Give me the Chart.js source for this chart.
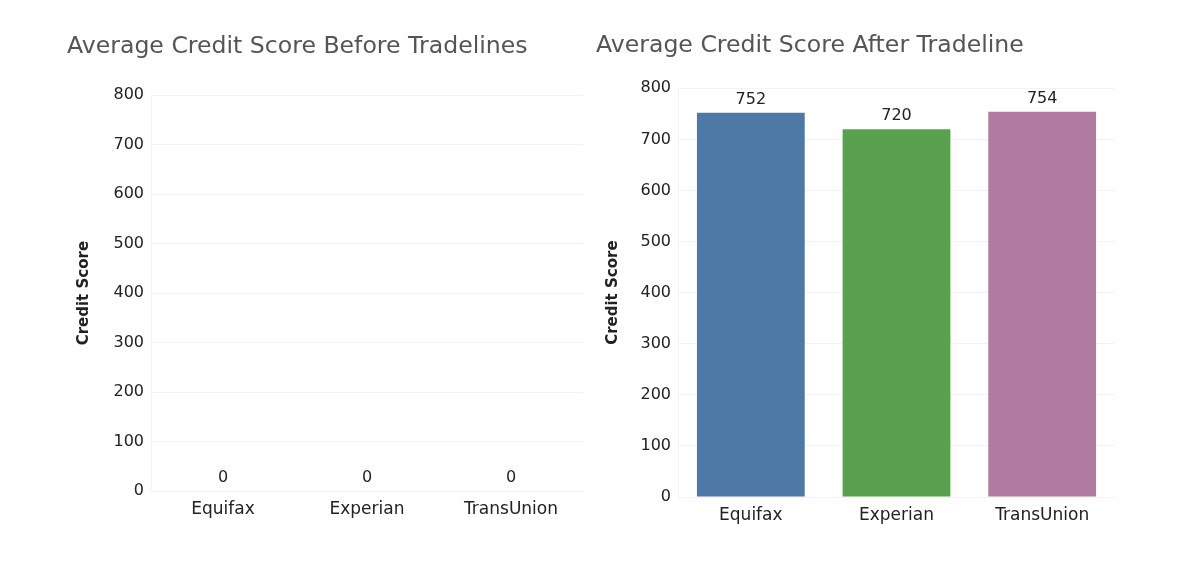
<!DOCTYPE html>
<html>
<head>
<meta charset="utf-8">
<script src="https://cdn.jsdelivr.net/npm/chart.js@4"></script>
<style>
  body { margin: 0; background: #fff; }
  canvas { position: absolute; top: 0; }
  #before { left: 0; }
  #after { left: 590px; }
</style>
</head>
<body>
<canvas id="before" width="590" height="567"></canvas>
<canvas id="after" width="610" height="567"></canvas>
<script>
// data
const bureaus = ['Equifax', 'Experian', 'TransUnion'];
const scoresBefore = [0, 0, 0];
const scoresAfter = [752, 720, 754];
const barColors = ['#4e79a7', '#59a14f', '#b07aa1'];
const scoreMin = 0;
const scoreMax = 800;
const scoreStep = 100;

const FONT = "'DejaVu Sans', sans-serif";

// numbers drawn over each bar
const valueLabels = {
  id: 'valueLabels',
  afterDatasetsDraw(chart) {
    const ctx = chart.ctx;
    const meta = chart.getDatasetMeta(0);
    const values = chart.data.datasets[0].data;
    ctx.save();
    ctx.font = '16px ' + FONT;
    ctx.fillStyle = '#222';
    ctx.textAlign = 'center';
    ctx.textBaseline = 'middle';
    meta.data.forEach((bar, i) => {
      ctx.fillText(String(values[i]), bar.x, bar.y - 13);
    });
    ctx.restore();
  }
};

function makeChart(id, title, values, pad, box) {
  const ctx = document.getElementById(id).getContext('2d');
  return new Chart(ctx, {
    type: 'bar',
    data: {
      labels: bureaus,
      datasets: [{
        data: values,
        backgroundColor: barColors,
        borderWidth: 0,
        categoryPercentage: 1,
        barPercentage: 0.74
      }]
    },
    plugins: [valueLabels],
    options: {
      responsive: false,
      animation: false,
      layout: { padding: pad },
      plugins: {
        legend: { display: false },
        tooltip: { enabled: false },
        title: {
          display: true,
          text: title,
          align: 'start',
          color: '#555',
          font: { family: FONT, size: 23.6, weight: 'normal' },
          padding: box.titlePad
        }
      },
      scales: {
        x: {
          grid: { display: false, drawTicks: false },
          border: { color: '#f4f4f4' },
          ticks: {
            color: '#222',
            padding: box.xPad,
            font: { family: FONT, size: 17 }
          },
          afterFit: s => { s.height = 30; }
        },
        y: {
          min: scoreMin,
          max: scoreMax,
          ticks: {
            stepSize: scoreStep,
            color: '#222',
            padding: 7,
            font: { family: FONT, size: 16 }
          },
          grid: { color: '#f3f3f3', drawTicks: false },
          border: { color: '#f4f4f4' },
          title: {
            display: true,
            text: 'Credit Score',
            color: '#222',
            font: { family: FONT, size: 15, weight: 'bold' },
            padding: { top: 8, bottom: 0 }
          },
          afterFit: s => { s.width = box.yWidth; }
        }
      }
    }
  });
}

makeChart('before', 'Average Credit Score Before Tradelines', scoresBefore,
  { left: 67, right: 7, top: 0, bottom: 46 },
  { titlePad: { top: 33, bottom: 34 }, xPad: 8, yWidth: 84 });

makeChart('after', 'Average Credit Score After Tradeline', scoresAfter,
  { left: 6, right: 85, top: 0, bottom: 40 },
  { titlePad: { top: 32, bottom: 28 }, xPad: 8, yWidth: 82 });
</script>
</body>
</html>
